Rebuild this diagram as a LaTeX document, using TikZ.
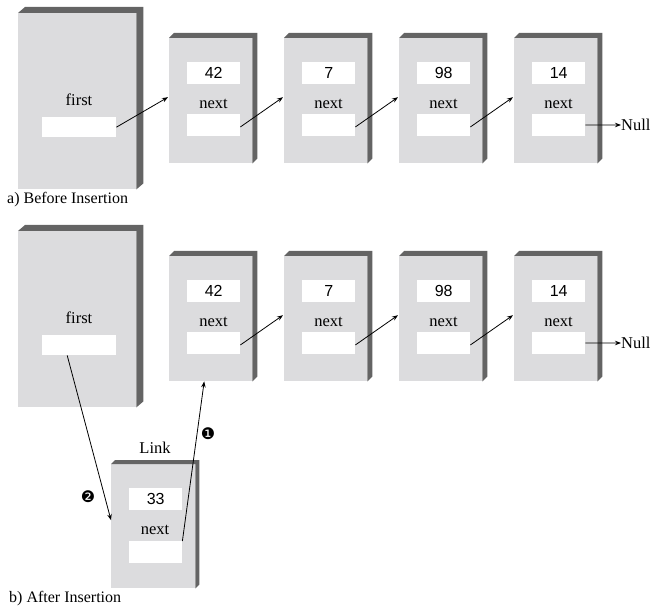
\documentclass[tikz,border=0pt]{standalone}
\usepackage{fontspec}
\setmainfont{Liberation Serif}
\newfontfamily\numfont{Liberation Sans}
\newfontfamily\dingfont{DejaVu Sans}
\usetikzlibrary{arrows.meta}
\definecolor{facegray}{HTML}{DCDCDE}
\definecolor{sidegray}{HTML}{646464}
\tikzset{
  face/.style={fill=facegray, draw=none, inner sep=0pt, anchor=north west},
  field/.style={fill=white, draw=none, inner sep=0pt, anchor=north west,
    minimum width=53, minimum height=21.5, font=\numfont\fontsize{16}{18}\selectfont},
  lbl/.style={font=\fontsize{16.5}{18}\selectfont, inner sep=0pt},
  captext/.style={font=\fontsize{16}{18}\selectfont, inner sep=0pt, anchor=west},
  ding/.style={font=\dingfont\fontsize{16}{18}\selectfont, inner sep=0pt},
  ptr/.style={draw=black, line width=0.8pt, -{Stealth[length=6pt,width=4.5pt]}},
}
% name, x, y, w, h, dx, dy
\newcommand\mkbox[7]{%
  \node[face, minimum width=#4, minimum height=#5] (#1) at (#2,#3) {};
  \fill[sidegray] (#1.north west) -- ++(#6,-#7)
    -- ([shift={(#6,-#7)}]#1.north east)
    -- ([shift={(#6,-#7)}]#1.south east)
    -- (#1.south east) -- (#1.north east) -- cycle;
}
\begin{document}
\begin{tikzpicture}[x=1pt,y=-1pt]
\useasboundingbox (0,0) rectangle (664,612);

% ---------------- a) Before Insertion ----------------
\mkbox{afirst}{18}{13}{118}{176}{7}{6}
\node[field, minimum width=74, minimum height=20] (afirstf) at (42,117) {};
\node[lbl] (afirstl) at (79,100) {first};

\mkbox{aA}{169}{38}{83}{125}{5}{5}
\node[field] (aAd) at (187,62) {42};
\node[lbl] (aAl) at (213.5,104) {next};
\node[field] (aAn) at (187,114) {};

\mkbox{aB}{284}{38}{83}{125}{5}{5}
\node[field] (aBd) at (302,62) {7};
\node[lbl] (aBl) at (328.5,104) {next};
\node[field] (aBn) at (302,114) {};

\mkbox{aC}{399}{38}{83}{125}{5}{5}
\node[field] (aCd) at (417,62) {98};
\node[lbl] (aCl) at (443.5,104) {next};
\node[field] (aCn) at (417,114) {};

\mkbox{aD}{514}{38}{83}{125}{5}{5}
\node[field] (aDd) at (532,62) {14};
\node[lbl] (aDl) at (558.5,104) {next};
\node[field] (aDn) at (532,114) {};

\node[lbl, anchor=west] (anull) at (621,125) {Null};
\node[captext] (acap) at (7,200) {a) Before Insertion};

\draw[ptr] ([yshift=0pt]afirstf.east) -- ([xshift=-1pt,yshift=3.5pt]aA.west);
\draw[ptr] ([yshift=-2pt]aAn.east) -- ([xshift=-1pt,yshift=3.5pt]aB.west);
\draw[ptr] ([yshift=-2pt]aBn.east) -- ([xshift=-1pt,yshift=3.5pt]aC.west);
\draw[ptr] ([yshift=-2pt]aCn.east) -- ([xshift=-1pt,yshift=3.5pt]aD.west);
\draw[ptr] (aDn.east) -- (anull.west);

% ---------------- b) After Insertion ----------------
\mkbox{bfirst}{18}{231}{118}{176}{7}{6}
\node[field, minimum width=74, minimum height=20] (bfirstf) at (42,335) {};
\node[lbl] (bfirstl) at (79,318) {first};

\mkbox{bA}{169}{256}{83}{125}{5}{5}
\node[field] (bAd) at (187,280) {42};
\node[lbl] (bAl) at (213.5,322) {next};
\node[field] (bAn) at (187,332) {};

\mkbox{bB}{284}{256}{83}{125}{5}{5}
\node[field] (bBd) at (302,280) {7};
\node[lbl] (bBl) at (328.5,322) {next};
\node[field] (bBn) at (302,332) {};

\mkbox{bC}{399}{256}{83}{125}{5}{5}
\node[field] (bCd) at (417,280) {98};
\node[lbl] (bCl) at (443.5,322) {next};
\node[field] (bCn) at (417,332) {};

\mkbox{bD}{514}{256}{83}{125}{5}{5}
\node[field] (bDd) at (532,280) {14};
\node[lbl] (bDl) at (558.5,322) {next};
\node[field] (bDn) at (532,332) {};

\node[lbl, anchor=west] (bnull) at (621,343) {Null};

\draw[ptr] ([yshift=-2pt]bAn.east) -- ([xshift=-1pt,yshift=3.5pt]bB.west);
\draw[ptr] ([yshift=-2pt]bBn.east) -- ([xshift=-1pt,yshift=3.5pt]bC.west);
\draw[ptr] ([yshift=-2pt]bCn.east) -- ([xshift=-1pt,yshift=3.5pt]bD.west);
\draw[ptr] (bDn.east) -- (bnull.west);

% Link box
\mkbox{link}{111}{464}{84}{124}{4}{4}
\node[lbl] (linkl) at (155,448) {Link};
\node[field] (linkd) at (129,488) {33};
\node[lbl] (linknl) at (155,530) {next};
\node[field] (linkn) at (129,541) {};

\draw[ptr] (linkn.north east) -- ([xshift=-6.5pt]bA.south);
\draw[ptr] ([xshift=-12pt]bfirstf.south) -- ([yshift=6pt]link.west);

\node[ding] (one) at (208,434) {❶};
\node[ding] (two) at (88,497) {❷};

\node[captext] (bcap) at (9,599) {b) After Insertion};
\end{tikzpicture}
\end{document}
